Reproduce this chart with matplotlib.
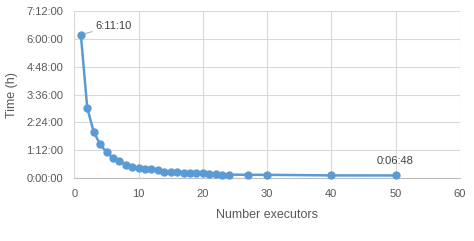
import matplotlib.pyplot as plt
from matplotlib.ticker import FixedLocator, FuncFormatter

# executors vs. run time (h:mm:ss)
executors = [1, 2, 3, 4, 5, 6, 7, 8, 9, 10, 11, 12, 13, 14, 15, 16, 17, 18,
             19, 20, 21, 22, 23, 24, 27, 30, 40, 50]
times = ["6:11:10", "3:01:00", "2:00:00", "1:27:00", "1:07:00", "0:53:00",
         "0:45:00", "0:35:00", "0:29:00", "0:27:00", "0:23:00", "0:22:30",
         "0:20:00", "0:17:00", "0:15:30", "0:15:00", "0:12:30", "0:12:00",
         "0:12:00", "0:12:00", "0:11:30", "0:09:30", "0:09:00", "0:09:00",
         "0:08:30", "0:08:30", "0:07:00", "0:06:48"]
yticks = ["0:00:00", "1:12:00", "2:24:00", "3:36:00", "4:48:00", "6:00:00", "7:12:00"]


def to_hours(s):
    h, m, sec = s.split(":")
    return int(h) + int(m) / 60 + int(sec) / 3600


def fmt(v, pos):
    tot = int(round(v * 3600))
    return "%d:%02d:%02d" % (tot // 3600, (tot % 3600) // 60, tot % 60)


hours = [to_hours(t) for t in times]
txt = "#595959"
blue = "#5B9BD5"
plt.rcParams['font.family'] = ['Liberation Sans', 'DejaVu Sans']

fig = plt.figure(figsize=(4.74, 2.41), dpi=100)
ax = fig.add_axes([0.157, 0.261, 0.813, 0.693])
ax.plot(executors, hours, '-o', color=blue, lw=1.8, ms=5, zorder=3, clip_on=False)

ax.set_xlim(0, 60)
ax.set_ylim(0, 7.2)
ax.set_xticks(range(0, 61, 10))
ax.yaxis.set_major_locator(FixedLocator([to_hours(t) for t in yticks]))
ax.yaxis.set_major_formatter(FuncFormatter(fmt))
ax.grid(True, color="#D9D9D9", lw=0.8)
ax.set_axisbelow(True)
for s in ["top", "right", "left"]:
    ax.spines[s].set_visible(False)
ax.spines["bottom"].set_color("#BFBFBF")
ax.tick_params(length=0, labelsize=8, colors=txt)
ax.tick_params(axis="y", pad=8)
ax.tick_params(axis="x", pad=8)
ax.set_xlabel("Number executors", fontsize=9, color=txt, labelpad=7)
ax.set_ylabel("Time (h)", fontsize=9, color=txt, labelpad=6)

ax.annotate(times[0], (executors[0], hours[0]), xytext=(3.2, 6.55),
            fontsize=8, color="#404040", va="center",
            arrowprops=dict(arrowstyle="-", color="#A6A6A6", lw=0.7,
                            shrinkA=0, shrinkB=3))
ax.annotate(times[-1], (executors[-1], hours[-1]), xytext=(0, 7),
            textcoords="offset points", ha="center", va="bottom",
            fontsize=8, color="#404040")

fig.savefig("out.png", dpi=100)
